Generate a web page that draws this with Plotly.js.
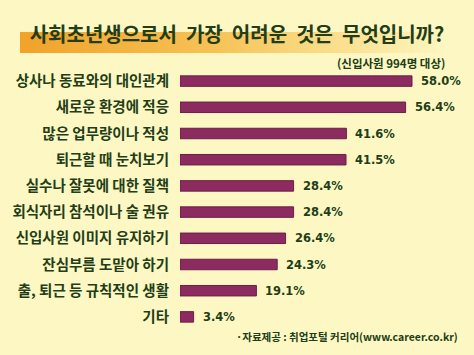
<!DOCTYPE html>
<html>
<head>
<meta charset="utf-8">
<script src="https://cdn.plot.ly/plotly-3.0.1.min.js"></script>
<style>html,body{margin:0;padding:0;background:#fdf8c3;}#chart{width:474px;height:355px;}</style>
</head>
<body>
<div id="chart"></div>
<script>
const categories = [
  '상사나 동료와의 대인관계',
  '새로운 환경에 적응',
  '많은 업무량이나 적성',
  '퇴근할 때 눈치보기',
  '실수나 잘못에 대한 질책',
  '회식자리 참석이나 술 권유',
  '신입사원 이미지 유지하기',
  '잔심부름 도맡아 하기',
  '출, 퇴근 등 규칙적인 생활',
  '기타'
];
const values = [58.0, 56.4, 41.6, 41.5, 28.4, 28.4, 26.4, 24.3, 19.1, 3.4];
const valueLabels = values.map(v => v.toFixed(1) + '%');
const titleText = '사회초년생으로서  가장  어려운  것은  무엇입니까?';
const subtitleText = '(신입사원 994명 대상)';
const sourceText = '·자료제공 : 취업포털 커리어(www.career.co.kr)';

const bg = '#fdf8c3';
const green = '#223d18';
const korFont = '"Noto Sans CJK KR", "Noto Sans", sans-serif';
const narrowFont = '"DejaVu Sans", sans-serif';

const svg = '<svg xmlns="http://www.w3.org/2000/svg" width="430" height="21" viewBox="0 0 430 21" preserveAspectRatio="none">' +
  '<defs><linearGradient id="g" x1="0" y1="0" x2="1" y2="0">' +
  '<stop offset="0" stop-color="#f1a229"/>' +
  '<stop offset="0.45" stop-color="#f6c255"/>' +
  '<stop offset="0.8" stop-color="#fbe59a"/>' +
  '<stop offset="1" stop-color="' + bg + '"/>' +
  '</linearGradient></defs><rect x="0" y="0" width="430" height="21" fill="url(#g)"/></svg>';
const svgUri = 'data:image/svg+xml;charset=utf-8,' + encodeURIComponent(svg);

const trace = {
  type: 'bar',
  orientation: 'h',
  y: categories,
  x: values,
  width: 0.4,
  marker: {color: '#8c2b60', line: {color: '#6a1f48', width: 1}},
  hoverinfo: 'skip'
};

const annotations = values.map((v, i) => ({
  x: v, y: categories[i], xref: 'x', yref: 'y',
  text: valueLabels[i], showarrow: false,
  xanchor: 'left', yanchor: 'middle', xshift: 7,
  font: {family: narrowFont, size: 11.5, color: green, weight: 'bold', stretch: 'condensed'}
}));
annotations.push({
  x: 0.954, y: 1.019, xref: 'paper', yref: 'paper',
  text: subtitleText, showarrow: false, xanchor: 'right', yanchor: 'middle',
  font: {family: korFont, size: 11.5, color: green, weight: 'bold'}
});
annotations.push({
  x: 1.0, y: -0.023, xref: 'paper', yref: 'paper',
  text: sourceText, showarrow: false, xanchor: 'right', yanchor: 'middle',
  font: {family: korFont, size: 10.5, color: green, weight: 'bold'}
});

const layout = {
  width: 474, height: 355,
  margin: {l: 180, r: 14, t: 68, b: 25},
  paper_bgcolor: bg, plot_bgcolor: bg,
  showlegend: false,
  title: {
    text: titleText, xref: 'container', x: 0.5, xanchor: 'center',
    yref: 'container', y: 1 - 35 / 355, yanchor: 'middle',
    font: {family: korFont, size: 20, color: green, weight: 'bold'}
  },
  xaxis: {range: [0, 70], visible: false, fixedrange: true},
  yaxis: {
    type: 'category', autorange: 'reversed', showgrid: false, zeroline: false,
    showline: false, ticks: '', ticklabelstandoff: 10,
    tickfont: {family: korFont, size: 14.5, color: green, weight: 'bold'},
    fixedrange: true
  },
  images: [{
    source: svgUri, xref: 'paper', yref: 'paper',
    x: (20 - 180) / 280, y: (330 - 32) / 262,
    sizex: 430 / 280, sizey: 21 / 262,
    xanchor: 'left', yanchor: 'top', sizing: 'stretch', layer: 'below'
  }],
  annotations: annotations
};

Plotly.newPlot('chart', [trace], layout, {displayModeBar: false, staticPlot: true});
</script>
</body>
</html>
